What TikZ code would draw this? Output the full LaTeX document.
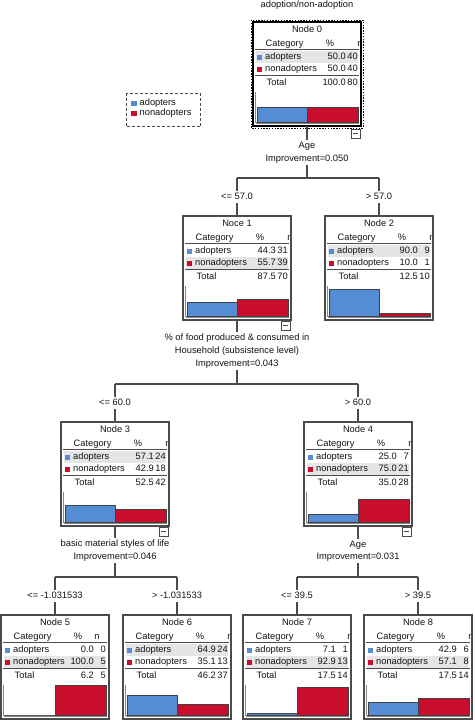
\documentclass[tikz,border=0pt]{standalone}
\usepackage{fontspec}
\setmainfont{Liberation Sans}
\newcommand\spssfont{\fontsize{9.3}{10}\selectfont}
\definecolor{barblue}{RGB}{84,141,212}
\definecolor{barred}{RGB}{200,14,44}
\definecolor{hlgray}{RGB}{229,229,229}
\definecolor{linegray}{RGB}{75,75,75}
\definecolor{axisgray}{RGB}{135,135,135}
\tikzset{
 nodebox/.style={draw=linegray, line width=1.1pt, minimum width=108pt, minimum height=104pt, inner sep=0pt, outer sep=0pt, anchor=north west},
 txt/.style={font=\spssfont, text=black!92, inner sep=0pt, text height=6.6pt, text depth=1.9pt},
 lbl/.style={txt, inner sep=1.5pt},
 conn/.style={draw=linegray, line width=1.1pt},
 minusbox/.style={draw=linegray, line width=0.9pt, minimum size=9pt, inner sep=0pt, outer sep=0pt, anchor=north east, fill=white},
 rulethin/.style={draw=linegray, line width=1.2pt},
 rulethick/.style={draw=linegray, line width=1.7pt},
 barbox/.style={draw=black!75, line width=0.7pt},
}
\begin{document}
\begin{tikzpicture}[x=1pt,y=-1pt]
\useasboundingbox (0,0) rectangle (474,720);
\fill[white] (0,0) rectangle (474,720);

\node[txt] (title) at (307,5) {adoption/non-adoption};

% legend
\node[draw=linegray, line width=1pt, dash pattern=on 3pt off 2pt, minimum width=74pt, minimum height=33pt, inner sep=0pt, anchor=north west] (legend) at (126,93) {};
\fill[barblue] (131,100.5) rectangle (136.5,106);
\node[txt, anchor=west] (lega) at (139.5,103) {adopters};
\fill[barred] (131,110.5) rectangle (136.5,116);
\node[txt, anchor=west] (legn) at (139.5,113) {nonadopters};

% tree nodes
\foreach \nm/\L/\T/\ttl/\hl/\pa/\na/\pb/\nb/\pt/\nt/\nx in {
 n0/253/22/Node 0/1/50.0/40/50.0/40/100.0/80/107,
 n1/183/216/Noce 1/2/44.3/31/55.7/39/87.5/70/107,
 n2/325/216/Node 2/1/90.0/9/10.0/1/12.5/10/107,
 n3/61/422/Node 3/1/57.1/24/42.9/18/52.5/42/107,
 n4/304/422/Node 4/2/25.0/7/75.0/21/35.0/28/107,
 n5/1/615/Node 5/2/0.0/0/100.0/5/6.2/5/96,
 n6/123/615/Node 6/1/64.9/24/35.1/13/46.2/37/107,
 n7/243/615/Node 7/2/7.1/1/92.9/13/17.5/14/107,
 n8/364/615/Node 8/2/42.9/6/57.1/8/17.5/14/107}{
 \begin{scope}[shift={(\L,\T)}]
  \pgfmathsetmacro\hy{23+12*\hl}
  \fill[hlgray] (3,\hy-5.8) rectangle (105,\hy+5.8);
  \node[txt] at (54,8.5) {\ttl};
  \node[txt, anchor=west] at (12.5,22) {Category};
  \node[txt] at (77,22) {\%};
  \begin{scope}
   \clip (0,0) rectangle (107.5,104);
   \node[txt] at (\nx,22) {n};
  \end{scope}
  \draw[rulethin] (2,27.5) -- (106,27.5);
  \fill[barblue] (3.5,32.5) rectangle (9,38);
  \node[txt, anchor=west] at (12,35) {adopters};
  \node[txt, anchor=east] at (93,35) {\pa};
  \node[txt, anchor=east] at (105,35) {\na};
  \fill[barred] (3.5,44.5) rectangle (9,50);
  \node[txt, anchor=west] at (12,47) {nonadopters};
  \node[txt, anchor=east] at (93,47) {\pb};
  \node[txt, anchor=east] at (105,47) {\nb};
  \draw[rulethick] (2,53.5) -- (106,53.5);
  \node[txt, anchor=west] at (13.5,61) {Total};
  \node[txt, anchor=east] at (93,61) {\pt};
  \node[txt, anchor=east] at (105,61) {\nt};
  \draw[axisgray, line width=1pt] (2.5,70) -- (2.5,101);
  \draw[axisgray, line width=1.8pt] (2.5,101) -- (106,101);
  \draw[barbox, fill=barblue] (4,100) rectangle (54.5,{100-0.3*\pa});
  \draw[barbox, fill=barred] (54.5,100) rectangle (105.5,{100-0.3*\pb});
  \node[nodebox] (\nm) at (0,0) {};
 \end{scope}
}

% root node special borders
\draw[black, line width=1.9pt] (n0.north west) rectangle (n0.south east);
\draw[black, line width=1pt, dash pattern=on 1.4pt off 1.4pt] ([shift={(-2pt,2pt)}]n0.north west) rectangle ([shift={(2pt,-2pt)}]n0.south east);

% minus boxes
\node[minusbox] (m0) at ([shift={(-1pt,-3pt)}]n0.south east) {};
\node[minusbox] (m1) at ([shift={(-1pt,-1pt)}]n1.south east) {};
\node[minusbox] (m3) at ([shift={(-1pt,-1pt)}]n3.south east) {};
\node[minusbox] (m4) at ([shift={(-1pt,-1pt)}]n4.south east) {};
\foreach \m in {m0,m1,m3,m4}{
 \draw[linegray, line width=0.9pt] ([xshift=-2.5pt]\m.center) -- ([xshift=2.5pt]\m.center);
}

% split of node 0
\node[lbl] (a0) at (307,146) {Age};
\node[lbl] (i0) at (307,159) {Improvement=0.050};
\coordinate (h0) at (307,178);
\coordinate (h0l) at (237,178);
\coordinate (h0r) at (379,178);
\node[lbl] (e1) at (237,197) {<= 57.0};
\node[lbl] (e2) at (379,197) {> 57.0};
\draw[conn] (n0.south) -- (a0.north);
\draw[conn] (i0.south) -- (h0);
\draw[conn] (h0l) -- (h0r);
\draw[conn] (h0l) -- (e1.north);
\draw[conn] (e1.south) -- (n1.north);
\draw[conn] (h0r) -- (e2.north);
\draw[conn] (e2.south) -- (n2.north);

% split of node 1
\node[lbl] (a1) at (237,338) {\% of food produced \& consumed in};
\node[lbl] (b1) at (237,351) {Household (subsistence level)};
\node[lbl] (i1) at (237,364) {Improvement=0.043};
\coordinate (h1) at (237,384);
\coordinate (h1l) at (115,384);
\coordinate (h1r) at (358,384);
\node[lbl] (e3) at (115,403) {<= 60.0};
\node[lbl] (e4) at (358,403) {> 60.0};
\draw[conn] (n1.south) -- (a1.north);
\draw[conn] (i1.south) -- (h1);
\draw[conn] (h1l) -- (h1r);
\draw[conn] (h1l) -- (e3.north);
\draw[conn] (e3.south) -- (n3.north);
\draw[conn] (h1r) -- (e4.north);
\draw[conn] (e4.south) -- (n4.north);

% split of node 3
\node[lbl] (a3) at (115,544) {basic material styles of life};
\node[lbl] (i3) at (115,557) {Improvement=0.046};
\coordinate (h3) at (115,577);
\coordinate (h3l) at (55,577);
\coordinate (h3r) at (177,577);
\node[lbl] (e5) at (55,596) {<= -1.031533};
\node[lbl] (e6) at (177,596) {> -1.031533};
\draw[conn] (n3.south) -- (a3.north);
\draw[conn] (i3.south) -- (h3);
\draw[conn] (h3l) -- (h3r);
\draw[conn] (h3l) -- (e5.north);
\draw[conn] (e5.south) -- (n5.north);
\draw[conn] (h3r) -- (e6.north);
\draw[conn] (e6.south) -- (n6.north);

% split of node 4
\node[lbl] (a4) at (358,545) {Age};
\node[lbl] (i4) at (358,557) {Improvement=0.031};
\coordinate (h4) at (358,577);
\coordinate (h4l) at (297,577);
\coordinate (h4r) at (418,577);
\node[lbl] (e7) at (297,596) {<= 39.5};
\node[lbl] (e8) at (418,596) {> 39.5};
\draw[conn] (n4.south) -- (a4.north);
\draw[conn] (i4.south) -- (h4);
\draw[conn] (h4l) -- (h4r);
\draw[conn] (h4l) -- (e7.north);
\draw[conn] (e7.south) -- (n7.north);
\draw[conn] (h4r) -- (e8.north);
\draw[conn] (e8.south) -- (n8.north);
\end{tikzpicture}
\end{document}
